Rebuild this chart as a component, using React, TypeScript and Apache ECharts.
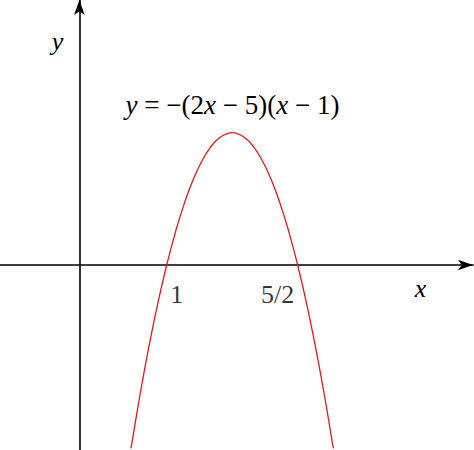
import React, { useEffect, useRef } from "react";
import * as echarts from "echarts";

const curveX = [
  0.59, 0.6, 0.7, 0.8, 0.9, 1.0, 1.1, 1.2, 1.3, 1.4, 1.5, 1.6, 1.7, 1.75, 1.8,
  1.9, 2.0, 2.1, 2.2, 2.3, 2.4, 2.5, 2.6, 2.7, 2.8, 2.9, 2.91,
];
const curveY = [
  -1.56, -1.52, -1.08, -0.68, -0.32, 0, 0.28, 0.52, 0.72, 0.88, 1.0, 1.08, 1.12,
  1.125, 1.12, 1.08, 1.0, 0.88, 0.72, 0.52, 0.28, 0, -0.32, -0.68, -1.08, -1.52,
  -1.56,
];

// marked roots on the x axis
const rootX = [1, 2.5];
const rootLabels = ["1", "5/2"];
const rootOffsets = [
  [10, 29],
  [-20, 29],
];

const xRange = [-0.9095, 4.5086];
const yRange = [-1.5731, 2.2534];

const FONT = "'Liberation Serif', 'DejaVu Serif', serif";

const App: React.FC = () => {
  const chartRef = useRef<HTMLDivElement>(null);

  useEffect(() => {
    if (!chartRef.current) return;
    const chart = echarts.init(chartRef.current, undefined, { renderer: "svg" });

    const axisLine = {
      show: true,
      onZero: true,
      symbol: ["none", "arrow"],
      symbolSize: [8, 15],
      lineStyle: { color: "#000", width: 1.6 },
    };

    const option: echarts.EChartsOption = {
      animation: false,
      backgroundColor: "#fff",
      grid: { left: 0, right: 1, top: 0, bottom: 0, containLabel: false },
      xAxis: {
        type: "value",
        min: xRange[0],
        max: xRange[1],
        axisLine: axisLine as any,
        axisTick: { show: false },
        axisLabel: { show: false },
        splitLine: { show: false },
      },
      yAxis: {
        type: "value",
        min: yRange[0],
        max: yRange[1],
        axisLine: axisLine as any,
        axisTick: { show: false },
        axisLabel: { show: false },
        splitLine: { show: false },
      },
      series: [
        {
          type: "line",
          data: curveX.map((x, i) => [x, curveY[i]]),
          smooth: true,
          showSymbol: false,
          silent: true,
          lineStyle: { color: "#e3161e", width: 1.3 },
        },
        {
          type: "scatter",
          symbolSize: 0,
          silent: true,
          data: rootX.map((x, i) => ({
            value: [x, 0],
            label: {
              show: true,
              formatter: rootLabels[i],
              offset: rootOffsets[i],
            },
          })),
          label: {
            position: "inside",
            color: "#000",
            fontFamily: FONT,
            fontSize: 26,
          },
        },
      ],
      graphic: [
        {
          type: "text",
          x: 57.5,
          y: 41,
          style: {
            text: "y",
            font: `italic 26px ${FONT}`,
            fill: "#000",
            align: "center",
            verticalAlign: "middle",
          },
        },
        {
          type: "text",
          x: 420.5,
          y: 288,
          style: {
            text: "x",
            font: `italic 26px ${FONT}`,
            fill: "#000",
            align: "center",
            verticalAlign: "middle",
          },
        },
        {
          type: "text",
          x: 232.5,
          y: 105,
          style: {
            text: "{i|y} = \u2212(2{i|x} \u2212 5)({i|x} \u2212 1)",
            fontFamily: FONT,
            fontSize: 27,
            fill: "#000",
            align: "center",
            verticalAlign: "middle",
            rich: {
              i: { fontStyle: "italic", fontFamily: FONT, fontSize: 27 },
            },
          } as any,
        },
      ],
    };

    chart.setOption(option);
    return () => chart.dispose();
  }, []);

  return (
    <div
      ref={chartRef}
      style={{ position: "fixed", left: 0, top: 0, width: 474, height: 450 }}
      aria-label="Graph of y = -(2x - 5)(x - 1)"
    />
  );
};

export default App;
